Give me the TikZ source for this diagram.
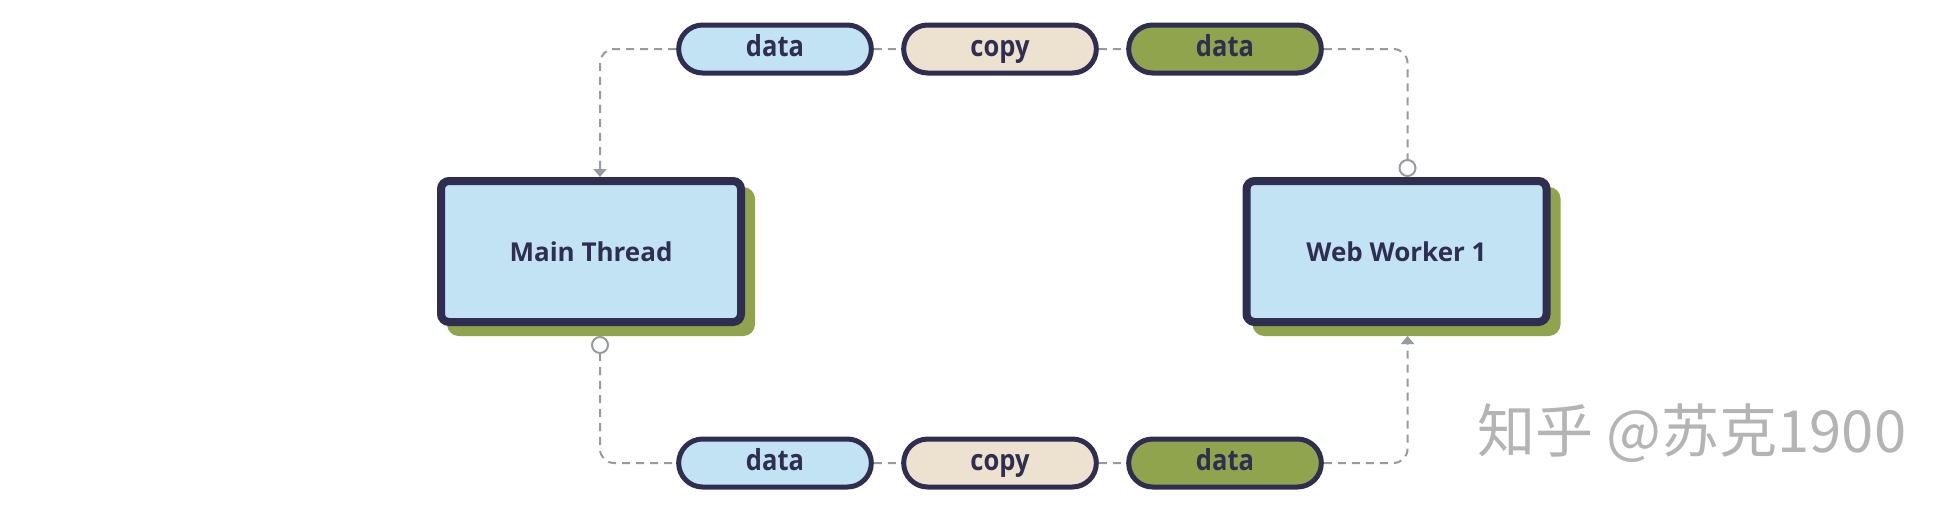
\documentclass[tikz,border=0pt]{standalone}
\usepackage{fontspec}
\setmainfont{Open Sans}
\newfontfamily\pillfont[FakeStretch=0.88]{Open Sans}
\newfontfamily\cjkfont{Noto Sans CJK SC}
\usetikzlibrary{arrows.meta,positioning,shapes.misc}
\definecolor{navy}{HTML}{2F2E50}
\definecolor{skyblue}{HTML}{C1E3F3}
\definecolor{sand}{HTML}{EDE1D0}
\definecolor{leaf}{HTML}{8FA44D}
\definecolor{dashgrey}{HTML}{979AA1}
\definecolor{markgrey}{HTML}{B4B4B4}

\begin{document}
\begin{tikzpicture}[x=0.5pt,y=-0.5pt,
  box/.style={draw=navy,fill=skyblue,line width=4pt,rounded corners=4pt,
    minimum width=150pt,minimum height=70.5pt,text=navy,
    font=\bfseries\fontsize{13}{15}\selectfont,
    preaction={draw=leaf,fill=leaf,transform canvas={shift={(5pt,-5pt)}}}},
  pill/.style={rounded rectangle,draw=navy,line width=2.5pt,
    minimum width=103pt,minimum height=24pt,text=navy,
    text height=10pt,text depth=2.5pt,
    font=\pillfont\bfseries\fontsize{14.5}{16}\selectfont},
  link/.style={draw=dashgrey,line width=1pt,dash pattern=on 4pt off 3pt,rounded corners=7pt},
  tip/.style={-{Triangle[width=6.5pt,length=4pt]}}]
\useasboundingbox (0,0) rectangle (1957,511);
\node[box] (mt) at (591,251.5) {Main Thread};
\node[box] (ww) at (1396.5,251.5) {Web Worker 1};
\foreach \row/\y in {t/49,b/463}{
  \node[pill,fill=skyblue] (d1\row) at (775,\y) {data};
  \node[pill,fill=sand] (cp\row) at (1000,\y) {copy};
  \node[pill,fill=leaf] (d2\row) at (1225,\y) {data};
  \draw[link] (d1\row) -- (cp\row);
  \draw[link] (cp\row) -- (d2\row);}
% worker -> main, top row
\draw[link,-{Circle[open,length=9pt,width=9pt]}] (d2t.east) -| ([xshift=5.5pt]ww.north);
\draw[link,tip] (d1t.west) -| ([xshift=4.5pt]mt.north);
% main -> worker, bottom row
\draw[link,{Circle[open,length=9pt,width=9pt]}-] ([xshift=4.5pt,yshift=-5pt]mt.south) |- (d1b.west);
\draw[link,tip] (d2b.east) -| ([xshift=5.5pt,yshift=-5pt]ww.south);
\node[text=markgrey,font=\cjkfont\fontsize{29}{31}\selectfont] (mark) at (1692,433) {知乎 @苏克1900};
\end{tikzpicture}
\end{document}
